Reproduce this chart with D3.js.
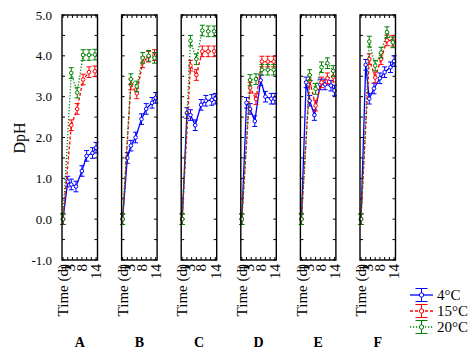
<!DOCTYPE html>
<html><head><meta charset="utf-8">
<script src="https://cdn.jsdelivr.net/npm/d3@7"></script>
<style>body{margin:0;background:#fff}svg{display:block}</style>
</head><body>
<script>
// ---- data ----
const panels = ["A","B","C","D","E","F"];
const temps = ["4°C","15°C","20°C"];
const colors = ["#0000ff","#ff0000","#008000"];
const daysCold = [0, 2, 3.5, 5.5, 8, 10, 12.5, 14];
const daysWarm = [0, 3.5, 6, 8.5, 11, 13.5];
const blue = [
  [0, 0.92, 0.85, 0.8, 1.18, 1.55, 1.62, 1.75],
  [0, 1.5, 1.8, 2.0, 2.45, 2.7, 2.85, 2.97],
  [0, 2.6, 2.55, 2.3, 2.8, 2.9, 2.92, 2.95],
  [0, 2.85, 2.7, 2.4, 3.4, 3.0, 2.95, 2.95],
  [0, 3.35, 2.9, 2.55, 3.3, 3.3, 3.27, 3.15],
  [0, 3.78, 2.95, 3.2, 3.45, 3.6, 3.72, 3.87]
];
const red = [
  [0, 2.3, 2.7, 3.42, 3.6, 3.62],
  [0, 3.3, 3.08, 3.84, 3.98, 4.02],
  [0, 3.76, 3.53, 4.11, 4.11, 4.11],
  [0, 3.22, 2.94, 3.86, 3.86, 3.86],
  [0, 3.39, 2.78, 3.35, 3.45, 3.49],
  [0, 3.92, 3.47, 3.92, 4.38, 4.37]
];
const green = [
  [0, 3.58, 3.1, 4.02, 4.02, 4.03],
  [0, 3.43, 3.25, 3.95, 4.0, 3.95],
  [0, 4.37, 3.92, 4.62, 4.6, 4.6],
  [0, 3.41, 3.43, 3.66, 3.66, 3.66],
  [0, 3.53, 3.19, 3.72, 3.82, 3.63],
  [0, 4.35, 3.76, 4.08, 4.58, 4.33]
];
const errSize = [0.13, 0.13, 0.13];
const yTicks = [-1, 0, 1, 2, 3, 4, 5];
const xTickVals = [0, 1, 3, 8, 14];
const xTickLabels = ["Time (d)", "1", "3", "8", "14"];
const yTitle = "DpH";

// ---- layout ----
const W = 474, H = 355;
const svg = d3.select("body").append("svg").attr("width", W).attr("height", H);
const font = "'Liberation Serif','Times New Roman',serif";
const topY = 15, bottomY = 260, pw = 35.5;
const panelX = d3.scalePoint().domain(panels).range([62, 360]);
const y = d3.scaleLinear().domain([-1, 5]).range([bottomY, topY]);
const dashes = [null, "3,2", "1.2,1.8"];

panels.forEach((p, i) => {
  const x0 = panelX(p);
  const x = d3.scaleLinear().domain([0, 14.6]).range([x0 + 1, x0 + pw]);
  const g = svg.append("g");
  const yMinor = d3.range(-1, 5.01, 0.5);
  yMinor.forEach(v => {
    g.append("line").attr("x1", x0).attr("x2", x0 + 3).attr("y1", y(v)).attr("y2", y(v)).attr("stroke", "#000");
    g.append("line").attr("x1", x0 + pw).attr("x2", x0 + pw - 3).attr("y1", y(v)).attr("y2", y(v)).attr("stroke", "#000");
  });
  d3.range(0, 15, 2).forEach(d => {
    g.append("line").attr("x1", x(d)).attr("x2", x(d)).attr("y1", bottomY).attr("y2", bottomY - 3).attr("stroke", "#000");
    g.append("line").attr("x1", x(d)).attr("x2", x(d)).attr("y1", topY).attr("y2", topY + 3).attr("stroke", "#000");
  });
  const sets = [[daysCold, blue[i]], [daysWarm, red[i]], [daysWarm, green[i]]];
  sets.forEach(([days, vals], s) => {
    const pts = days.map((d, k) => [d, vals[k]]);
    const line = d3.line().x(d => x(d[0])).y(d => y(d[1]));
    g.append("path").attr("d", line(pts)).attr("fill", "none").attr("stroke", colors[s])
      .attr("stroke-width", 1.3).attr("stroke-dasharray", dashes[s]);
    pts.forEach(d => {
      const cx = x(d[0]), e = errSize[s];
      g.append("line").attr("x1", cx).attr("x2", cx).attr("y1", y(d[1] - e)).attr("y2", y(d[1] + e)).attr("stroke", colors[s]);
      [d[1] - e, d[1] + e].forEach(v => g.append("line").attr("x1", cx - 2.5).attr("x2", cx + 2.5).attr("y1", y(v)).attr("y2", y(v)).attr("stroke", colors[s]));
      g.append("circle").attr("cx", cx).attr("cy", y(d[1])).attr("r", 1.8).attr("fill", "#fff").attr("stroke", colors[s]);
    });
  });
  g.append("rect").attr("x", x0).attr("y", topY).attr("width", pw).attr("height", bottomY - topY)
    .attr("fill", "none").attr("stroke", "#000").attr("stroke-width", 1.4);
  xTickVals.forEach((v, k) => {
    g.append("text").attr("transform", `translate(${x(v)},${bottomY + 4}) rotate(-90)`)
      .attr("dy", "0.35em").attr("text-anchor", "end").attr("font-family", font).attr("font-size", 15)
      .text(xTickLabels[k]);
  });
  g.append("text").attr("x", x0 + pw / 2).attr("y", 347).attr("text-anchor", "middle")
    .attr("font-family", font).attr("font-weight", "bold").attr("font-size", 14).text(p);
  if (i === 0) {
    yTicks.forEach(v => {
      g.append("text").attr("x", x0 - 10).attr("y", y(v)).attr("dy", "0.35em").attr("text-anchor", "end")
        .attr("font-family", font).attr("font-size", 13).text(d3.format(".1f")(v).replace("−", "-"));
    });
  }
});

svg.append("text").attr("transform", `translate(19,138) rotate(-90)`).attr("dy", "0.35em")
  .attr("text-anchor", "middle").attr("font-family", font).attr("font-size", 16).text(yTitle);

const ly = d3.scalePoint().domain(temps).range([295, 327]);
temps.forEach((t, s) => {
  const cy = ly(t), cx = 421.5;
  const lg = svg.append("g");
  lg.append("line").attr("x1", 410).attr("x2", 433).attr("y1", cy).attr("y2", cy).attr("stroke", colors[s])
    .attr("stroke-width", 1.3).attr("stroke-dasharray", dashes[s]);
  lg.append("line").attr("x1", cx).attr("x2", cx).attr("y1", cy - 6.5).attr("y2", cy + 6.5).attr("stroke", colors[s]);
  [-6.5, 6.5].forEach(o => lg.append("line").attr("x1", cx - 6).attr("x2", cx + 6).attr("y1", cy + o).attr("y2", cy + o).attr("stroke", colors[s]));
  lg.append("circle").attr("cx", cx).attr("cy", cy).attr("r", 2.2).attr("fill", "#fff").attr("stroke", colors[s]);
  lg.append("text").attr("x", 437).attr("y", cy).attr("dy", "0.35em").attr("font-family", font).attr("font-size", 15).text(t);
});
</script>
</body></html>
